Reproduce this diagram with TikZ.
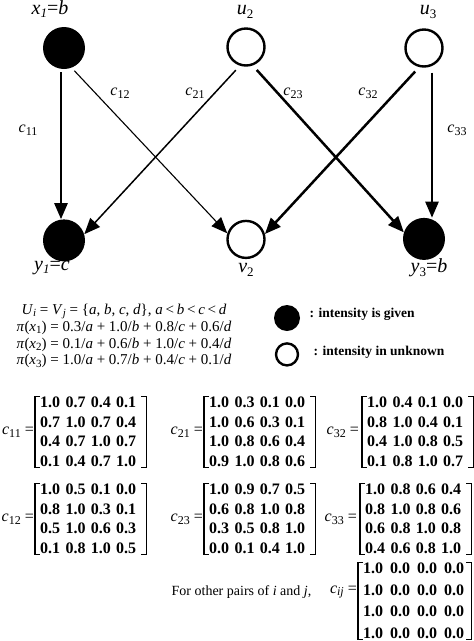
\documentclass[tikz,border=0pt]{standalone}
\usepackage{fontspec}
\setmainfont{Liberation Serif}
\usetikzlibrary{arrows.meta, positioning}
\newcommand{\lowsub}[2][11]{\raisebox{-0.35ex}{\fontsize{#1}{#1}\selectfont #2}}
\newcommand{\cw}[1]{\textit{c}\lowsub[12]{#1}}
\newcommand{\gap}{\hspace{7pt}}
\tikzset{
  given/.style={
    circle, fill=black, minimum size=42pt, inner sep=0pt
  },
  unknown/.style={
    circle, draw=black, line width=2.4pt,
    minimum size=37pt, inner sep=0pt
  },
  nodelabel/.style={
    font=\fontsize{20}{20}\selectfont, inner sep=1pt
  },
  edgelabel/.style={
    font=\fontsize{16}{16}\selectfont, inner sep=1pt
  },
  heavyarrow/.style={
    -{Triangle[length=16pt,width=13pt]}, line width=2.5pt
  },
  lightarrow/.style={
    -{Triangle[length=16pt,width=13pt]}, line width=1.1pt
  },
  mat/.style={
    text width=101pt, inner xsep=5pt, inner ysep=1pt,
    align=left, anchor=west,
    font=\fontsize{16}{19.5}\selectfont\bfseries
  },
  matlabel/.style={
    font=\fontsize{16}{16}\selectfont, inner sep=1pt
  },
  bracket/.style={line width=1.2pt},
  legendtext/.style={
    font=\fontsize{13.5}{14}\selectfont\bfseries, anchor=west
  },
}
\begin{document}
\begin{tikzpicture}[x=1pt, y=-1pt]
  \useasboundingbox (0,0) rectangle (474,641);

  %% nodes of the graph
  \node[given] (x1) at (64,48) {};
  \node[unknown] (u2) at (246,47) {};
  \node[unknown] (u3) at (424,48) {};
  \node[given, below=150pt of x1] (y1) {};
  \node[unknown, below=153pt of u2] (v2) {};
  \node[given, below=150pt of u3] (y3) {};

  \node[nodelabel] (x1lab) at (50,9) {\textit{x}\lowsub[13]{\textit{1}}=\textit{b}};
  \node[nodelabel] (u2lab) at (245,12) {\textit{u}\lowsub[13]{2}};
  \node[nodelabel] (u3lab) at (428,12) {\textit{u}\lowsub[13]{3}};
  \node[nodelabel] (y1lab) at (52,268) {\textit{y}\lowsub[13]{\textit{1}}=\textit{c}};
  \node[nodelabel] (v2lab) at (246,270) {\textit{v}\lowsub[13]{2}};
  \node[nodelabel] (y3lab) at (429,268) {\textit{y}\lowsub[13]{3}=\textit{b}};

  %% connectors
  \draw[heavyarrow, shorten <=3pt] ([xshift=-3pt]x1.south) -- ([xshift=-3pt]y1.north);
  \draw[lightarrow, shorten <=4pt] (x1.-69) -- (v2.162);
  \draw[lightarrow, line width=1.5pt, shorten <=6pt] (u2.252) -- (y1.17);
  \draw[heavyarrow, shorten <=6pt] (u2.-70) -- (y3.162);
  \draw[heavyarrow, shorten <=6pt] (u3.256) -- (v2.16);
  \draw[heavyarrow, shorten <=5pt] ([xshift=8pt]u3.south) -- ([xshift=8pt]y3.north);

  \node[edgelabel] (c11) at (28,130) {\cw{11}};
  \node[edgelabel] (c12) at (120,93) {\cw{12}};
  \node[edgelabel] (c21) at (195,93) {\cw{21}};
  \node[edgelabel] (c23) at (293,93) {\cw{23}};
  \node[edgelabel] (c32) at (368,93) {\cw{32}};
  \node[edgelabel] (c33) at (457,130) {\cw{33}};

  %% domains and intensities
  \node[font=\fontsize{15}{16.8}\selectfont, align=center] (defs) at (124,336)
    {\textit{U}\lowsub{\textit{i}} = \textit{V}\lowsub{\textit{j}} = \{\textit{a}, \textit{b}, \textit{c}, \textit{d}\}, \textit{a} {\kern-1pt}<{\kern-1pt} \textit{b} {\kern-1pt}<{\kern-1pt} \textit{c} {\kern-1pt}<{\kern-1pt} \textit{d}\\
     \textit{π}(\textit{x}\lowsub{1}) = 0.3/\textit{a} + 1.0/\textit{b} + 0.8/\textit{c} + 0.6/\textit{d}\\
     \textit{π}(\textit{x}\lowsub{2}) = 0.1/\textit{a} + 0.6/\textit{b} + 1.0/\textit{c} + 0.4/\textit{d}\\
     \textit{π}(\textit{x}\lowsub{3}) = 1.0/\textit{a} + 0.7/\textit{b} + 0.4/\textit{c} + 0.1/\textit{d}};

  %% legend
  \node[given, minimum size=26pt] (lgiven) at (287,318) {};
  \node[unknown, minimum size=22pt, below=11pt of lgiven] (lunknown) {};
  \node[legendtext, right=6pt of lgiven, yshift=4pt] (tgiven) {: intensity is given};
  \node[legendtext, right=11pt of lunknown, yshift=2pt] (tunknown) {: intensity in unknown};

  %% matrices
  \node[mat] (m11) at (35,432) {1.0 0.7 0.4 0.1\\0.7 1.0 0.7 0.4\\0.4 0.7 1.0 0.7\\0.1 0.4 0.7 1.0};
  \node[mat] (m21) at (204,432) {1.0 0.3 0.1 0.0\\1.0 0.6 0.3 0.1\\1.0 0.8 0.6 0.4\\0.9 1.0 0.8 0.6};
  \node[mat] (m32) at (362,432) {1.0 0.4 0.1 0.0\\0.8 1.0 0.4 0.1\\0.4 1.0 0.8 0.5\\0.1 0.8 1.0 0.7};
  \node[mat] (m12) at (35,519) {1.0 0.5 0.1 0.0\\0.8 1.0 0.3 0.1\\0.5 1.0 0.6 0.3\\0.1 0.8 1.0 0.5};
  \node[mat] (m23) at (204,519) {1.0 0.9 0.7 0.5\\0.6 0.8 1.0 0.8\\0.3 0.5 0.8 1.0\\0.0 0.1 0.4 1.0};
  \node[mat] (m33) at (360,519) {1.0 0.8 0.6 0.4\\0.8 1.0 0.8 0.6\\0.6 0.8 1.0 0.8\\0.4 0.6 0.8 1.0};
  \node[mat, text width=103pt, font=\fontsize{16}{21.5}\selectfont\bfseries] (mij) at (358,601)
    {1.0\gap0.0\gap0.0\gap0.0\\1.0\gap0.0\gap0.0\gap0.0\\1.0\gap0.0\gap0.0\gap0.0\\1.0\gap0.0\gap0.0\gap0.0};

  \foreach \m in {m11,m21,m32,m12,m23,m33,mij} {
    \draw[bracket] ([xshift=5pt]\m.north west) -| (\m.south west) -- ++(5pt,0);
    \draw[bracket] ([xshift=-5pt]\m.north east) -| (\m.south east) -- ++(-5pt,0);
  }

  \node[matlabel, left=0pt of m11] (l11) {\cw{11} =};
  \node[matlabel, left=0pt of m21] (l21) {\cw{21} =};
  \node[matlabel, left=2pt of m32] (l32) {\cw{32} =};
  \node[matlabel, left=0pt of m12] (l12) {\cw{12} =};
  \node[matlabel, left=0pt of m23] (l23) {\cw{23} =};
  \node[matlabel, left=2pt of m33] (l33) {\cw{33} =};
  \node[matlabel, left=0pt of mij, yshift=9pt] (lij) {\cw{\textit{ij}} =};
  \node[font=\fontsize{14}{14}\selectfont, left=14pt of lij] (other)
    {For other pairs of \textit{i} and \textit{j},};

\end{tikzpicture}
\end{document}
